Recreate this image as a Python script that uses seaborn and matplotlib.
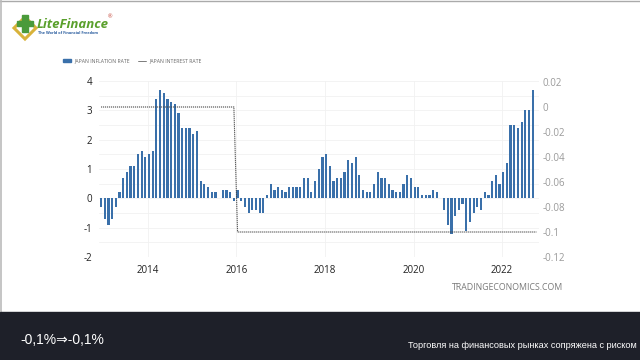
import numpy as np
import pandas as pd
import matplotlib
matplotlib.use("Agg")
import matplotlib.pyplot as plt
import matplotlib.patches as mpatches
from matplotlib.lines import Line2D
import seaborn as sns

# monthly data, Jan 2013 .. Oct 2022
inflation = [-0.3, -0.7, -0.9, -0.7, -0.3, 0.2, 0.7, 0.9, 1.1, 1.1, 1.5, 1.6,
             1.4, 1.5, 1.6, 3.4, 3.7, 3.6, 3.4, 3.3, 3.2, 2.9, 2.4, 2.4,
             2.4, 2.2, 2.3, 0.6, 0.5, 0.4, 0.2, 0.2, 0.0, 0.3, 0.3, 0.2,
             -0.1, 0.3, -0.1, -0.3, -0.5, -0.4, -0.4, -0.5, -0.5, 0.1, 0.5, 0.3,
             0.4, 0.3, 0.2, 0.4, 0.4, 0.4, 0.4, 0.7, 0.7, 0.2, 0.6, 1.0,
             1.4, 1.5, 1.1, 0.6, 0.7, 0.7, 0.9, 1.3, 1.2, 1.4, 0.8, 0.3,
             0.2, 0.2, 0.5, 0.9, 0.7, 0.7, 0.5, 0.3, 0.2, 0.2, 0.5, 0.8,
             0.7, 0.4, 0.4, 0.1, 0.1, 0.1, 0.3, 0.2, 0.0, -0.4, -0.9, -1.2,
             -0.6, -0.4, -0.2, -1.1, -0.8, -0.5, -0.3, -0.4, 0.2, 0.1, 0.6, 0.8,
             0.5, 0.9, 1.2, 2.5, 2.5, 2.4, 2.6, 3.0, 3.0, 3.7]
# interest rate, Jan 2013 .. Nov 2022
interest = [0.0] * 37 + [-0.1] * 82
months = pd.date_range("2013-01-01", periods=len(inflation), freq="MS").strftime("%Y-%m")
year_ticks = [2014, 2016, 2018, 2020, 2022]
left_ticks = [-2, -1, 0, 1, 2, 3, 4]
right_ticks = [0.02, 0, -0.02, -0.04, -0.06, -0.08, -0.1, -0.12]

sns.set_style("white")
plt.rcParams["font.family"] = ["Open Sans", "DejaVu Sans"]

W, H = 640, 360
fig = plt.figure(figsize=(6.4, 3.6), dpi=100)
fig.patch.set_facecolor("white")

def fx(px):
    return px / W

def fy(py):
    return 1 - py / H

# plot area in pixels
x0, x1, ytop, ybot = 99.2, 538.6, 81, 257
ax = fig.add_axes([fx(x0), fy(ybot), fx(x1 - x0), (ybot - ytop) / H])

df = pd.DataFrame({"month": months, "rate": inflation})
sns.barplot(data=df, x="month", y="rate", ax=ax, color="#3a70aa",
            linewidth=0, width=0.6, saturation=1)
ax.set_xlim(-0.5, 118.6)
ax.set_ylim(-2, 4)
ax.set_yticks(left_ticks)
ax.set_yticklabels([str(t) for t in left_ticks])
xt = [(y - 2013) * 12 + 0.7 for y in year_ticks]
ax.set_xticks(xt)
ax.set_xticklabels([str(y) for y in year_ticks])
ax.set_xlabel("")
ax.set_ylabel("")
ax.tick_params(axis="both", length=0, labelsize=7, colors="#222222", pad=6)
ax.tick_params(axis="y", pad=5)
for y in np.arange(-2, 4.01, 0.5):
    ax.axhline(y, color="#f1f1f1", lw=0.6, zorder=0)
for x in xt:
    ax.axvline(x, color="#f1f1f1", lw=0.6, zorder=0)
for s in ax.spines.values():
    s.set_visible(False)

ax2 = ax.twinx()
sns.lineplot(x=np.arange(len(interest)), y=interest, ax=ax2, color="#444444",
             lw=0.8, linestyle=(0, (1, 0.8)))
ax2.set_ylim(-0.12, 0.0208)
ax2.set_yticks(right_ticks)
ax2.set_yticklabels(["0.02", "0", "-0.02", "-0.04", "-0.06", "-0.08", "-0.1", "-0.12"])
ax2.tick_params(axis="y", length=0, labelsize=7, colors="#9a9a9a", pad=3)
ax2.set_ylabel("")
for s in ax2.spines.values():
    s.set_visible(False)
ax.set_xlim(-0.5, 118.6)

# legend
handles = [mpatches.Patch(color="#3a70aa"),
           Line2D([0], [0], color="#666666", lw=0.6)]
fig.legend(handles, ["JAPAN INFLATION RATE", "JAPAN INTEREST RATE"],
           loc="center left", bbox_to_anchor=(fx(58), fy(61)), ncol=2,
           frameon=False, fontsize=3.7, handlelength=1.6, handleheight=0.6,
           columnspacing=1.6, handletextpad=0.6, labelcolor="#666666")

# source
fig.text(fx(508), fy(287), "TRADINGECONOMICS.COM", ha="center", va="center",
         fontsize=6.3, color="#7a7a7a")

# logo
fig.add_artist(mpatches.Polygon([[fx(14), fy(28)], [fx(25), fy(17)], [fx(36), fy(28)], [fx(25), fy(39)]],
                                closed=True, fill=False, ec="#d8b23a", lw=2.2))
fig.add_artist(mpatches.Rectangle((fx(22), fy(32)), fx(6), 17 / H, color="#4a9a3a"))
fig.add_artist(mpatches.Rectangle((fx(17), fy(26)), fx(16), 5 / H, color="#4a9a3a"))
fig.text(fx(37), fy(24), "LiteFinance", fontsize=9.5, fontweight="bold",
         fontstyle="italic", color="#5aa02c", va="center", ha="left")
fig.text(fx(108), fy(17), "®", fontsize=4, color="#c0392b", va="center")
fig.text(fx(38), fy(33), "The World of Financial Freedom", fontsize=2.8,
         color="#2a5d9f", va="center", ha="left", fontweight="bold")

# borders
fig.add_artist(Line2D([0, 1], [fy(0.5), fy(0.5)], color="#aaaaaa", lw=1))
fig.add_artist(Line2D([fx(0.7), fx(0.7)], [fy(312), 1], color="#bbbbbb", lw=1.2))

# bottom band
fig.add_artist(mpatches.Rectangle((0, 0), 1, 48 / H, color="#1e2029", zorder=5))
fig.text(fx(20), fy(340), "-0,1%⇒-0,1%", fontsize=10, color="white",
         va="center", ha="left", family=["Liberation Sans", "DejaVu Sans"], zorder=6)
fig.text(fx(637), fy(346), "Торговля на финансовых рынках сопряжена с риском",
         fontsize=6.6, color="white", va="center", ha="right",
         family=["Liberation Sans", "DejaVu Sans"], zorder=6)

fig.savefig("out.png", dpi=100)
